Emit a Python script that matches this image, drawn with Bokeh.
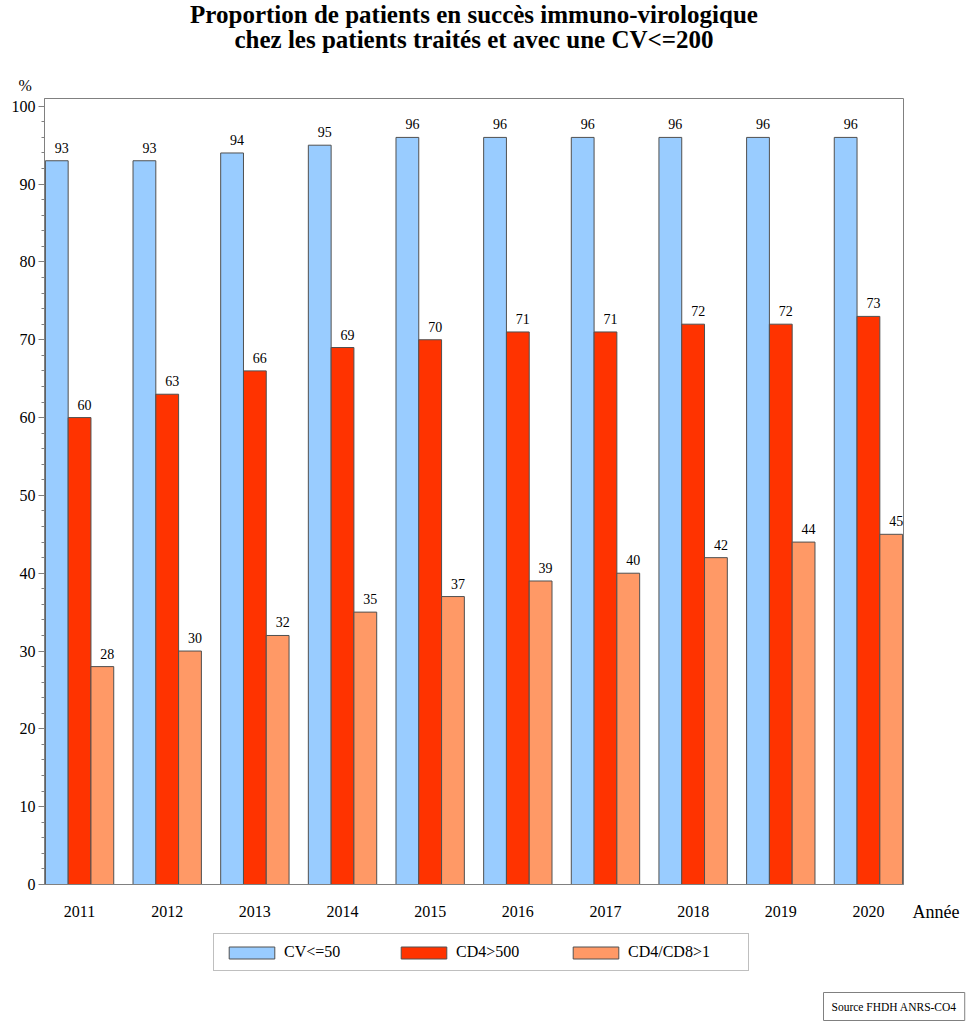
from bokeh.plotting import figure
from bokeh.layouts import column
from bokeh.models import (ColumnDataSource, FactorRange, Range1d, LabelSet, Legend,
                          LegendItem, Title, FixedTicker, Label)
from bokeh.transform import dodge
from bokeh.core.properties import value
from bokeh.embed import file_html
from bokeh.resources import INLINE

years = ["2011", "2012", "2013", "2014", "2015", "2016", "2017", "2018", "2019", "2020"]
cv50 = [93, 93, 94, 95, 96, 96, 96, 96, 96, 96]
cd4_500 = [60, 63, 66, 69, 70, 71, 71, 72, 72, 73]
cd4_cd8 = [28, 30, 32, 35, 37, 39, 40, 42, 44, 45]
series_names = ["CV<=50", "CD4>500", "CD4/CD8>1"]
colors = ["#99CCFF", "#FF3300", "#FF9966"]
title_lines = ["Proportion de patients en succès immuno-virologique",
               "chez les patients traités et avec une CV<=200"]
y_unit = "%"
x_name = "Année"
source_text = "Source FHDH ANRS-CO4"

FONT = "Liberation Serif"
EDGE = "#505050"
FRAME = "#808080"

source = ColumnDataSource(dict(
    years=years,
    cv50=cv50, cd4_500=cd4_500, cd4_cd8=cd4_cd8,
    cv50_t=[str(v) for v in cv50],
    cd4_500_t=[str(v) for v in cd4_500],
    cd4_cd8_t=[str(v) for v in cd4_cd8],
))

# ---------------- main chart ----------------
p = figure(width=967, height=925,
           x_range=FactorRange(factors=years, range_padding=-0.02),
           y_range=Range1d(0, 101),
           min_border_left=44, min_border_right=64,
           min_border_top=98, min_border_bottom=41,
           title_location=None,
           toolbar_location=None, output_backend="svg")

p.background_fill_color = "white"
p.border_fill_color = "white"
p.outline_line_color = FRAME
p.outline_line_width = 1
p.xgrid.visible = False
p.ygrid.visible = False

w = 0.26
fields = ["cv50", "cd4_500", "cd4_cd8"]
offsets = [-w, 0.0, w]
for f, off, c in zip(fields, offsets, colors):
    p.vbar(x=dodge("years", off, range=p.x_range), top=f, width=w, bottom=0,
           source=source, fill_color=c, line_color=EDGE, line_width=1)
    p.add_layout(LabelSet(x=dodge("years", off, range=p.x_range), y=f, text=f + "_t",
                          source=source, x_offset=5, y_offset=8,
                          text_align="center", text_baseline="alphabetic",
                          text_font=value(FONT), text_font_size="14px", text_color="black"))

# axes
p.yaxis.ticker = FixedTicker(ticks=list(range(0, 101, 10)), minor_ticks=list(range(0, 101, 2)))
p.yaxis.major_tick_out = 6
p.yaxis.major_tick_in = 0
p.yaxis.minor_tick_out = 3
p.yaxis.minor_tick_in = 0
p.yaxis.major_label_standoff = 3
for ax in (p.xaxis, p.yaxis):
    ax.axis_line_color = FRAME
    ax.major_tick_line_color = FRAME
    ax.minor_tick_line_color = FRAME
    ax.major_label_text_font = FONT
    ax.major_label_text_font_size = "16px"
    ax.major_label_text_color = "black"
p.xaxis.major_tick_line_color = None
p.xaxis.minor_tick_line_color = None
p.xaxis.major_tick_out = 0
p.xaxis.major_tick_in = 0
p.xaxis.major_label_standoff = 21

# x axis name, in the right side panel
p.add_layout(Label(x=9, y=-27, x_units="screen", y_units="screen", text=x_name,
                   text_align="left", text_baseline="middle",
                   text_font=FONT, text_font_size="18px", text_color="black"), "right")

# titles (stacked from the frame outward)
t_pct = Title(text=y_unit, align="left", offset=-26, vertical_align="bottom", standoff=10,
              text_font=FONT, text_font_size="16px", text_font_style="normal",
              text_color="black")
spacer = Title(text=" ", text_font=FONT, text_font_size="8px", standoff=6)
t_l2 = Title(text=title_lines[1], align="center", vertical_align="bottom", standoff=0,
             text_font=FONT, text_font_size="25px", text_font_style="bold",
             text_color="black")
t_l1 = Title(text=title_lines[0], align="center", vertical_align="bottom", standoff=-8,
             text_font=FONT, text_font_size="25px", text_font_style="bold",
             text_color="black")
p.add_layout(t_pct, "above")
p.add_layout(spacer, "above")
p.add_layout(t_l2, "above")
p.add_layout(t_l1, "above")

# ---------------- legend strip ----------------
pl = figure(width=967, height=97, x_range=Range1d(0, 1), y_range=Range1d(0, 1),
            min_border=0, min_border_left=0, min_border_right=0,
            min_border_top=0, min_border_bottom=0,
            x_axis_location=None, y_axis_location=None, title_location=None,
            toolbar_location=None, output_backend="svg")
pl.outline_line_color = None
pl.background_fill_color = "white"
pl.border_fill_color = "white"
for g in pl.grid:
    g.visible = False

# do not align the strip's frame with the chart's frame
x0 = 0
try:
    p.frame_align = False
    pl.frame_align = False
except Exception:
    x0 = 44

# key renderers: their single bar lies outside the strip's range, only the legend shows them
key_renderers = [pl.vbar(x=[5], top=[1], width=0.1, fill_color=c, line_color=EDGE, line_width=1)
                 for c in colors]
legend = Legend(items=[LegendItem(label=n, renderers=[r]) for n, r in zip(series_names, key_renderers)],
                location=(213 - x0, 51), orientation="horizontal",
                glyph_width=57, glyph_height=15, label_width=111, label_height=16,
                label_standoff=4, spacing=0, padding=9, margin=0,
                label_text_font=FONT, label_text_font_size="16px", label_text_color="black",
                border_line_color=FRAME, border_line_width=1,
                background_fill_color="white", background_fill_alpha=1)
pl.add_layout(legend)

pl.add_layout(Label(x=823 - x0, y=16, x_units="screen", y_units="screen", text=source_text,
                    text_align="left", text_baseline="middle", padding=8,
                    text_font=FONT, text_font_size="11.5px", text_color="black",
                    border_line_color=FRAME, border_line_width=1,
                    background_fill_color="white"))

layout = column(p, pl, spacing=0)
open("out.html", "w").write(file_html(layout, INLINE))
